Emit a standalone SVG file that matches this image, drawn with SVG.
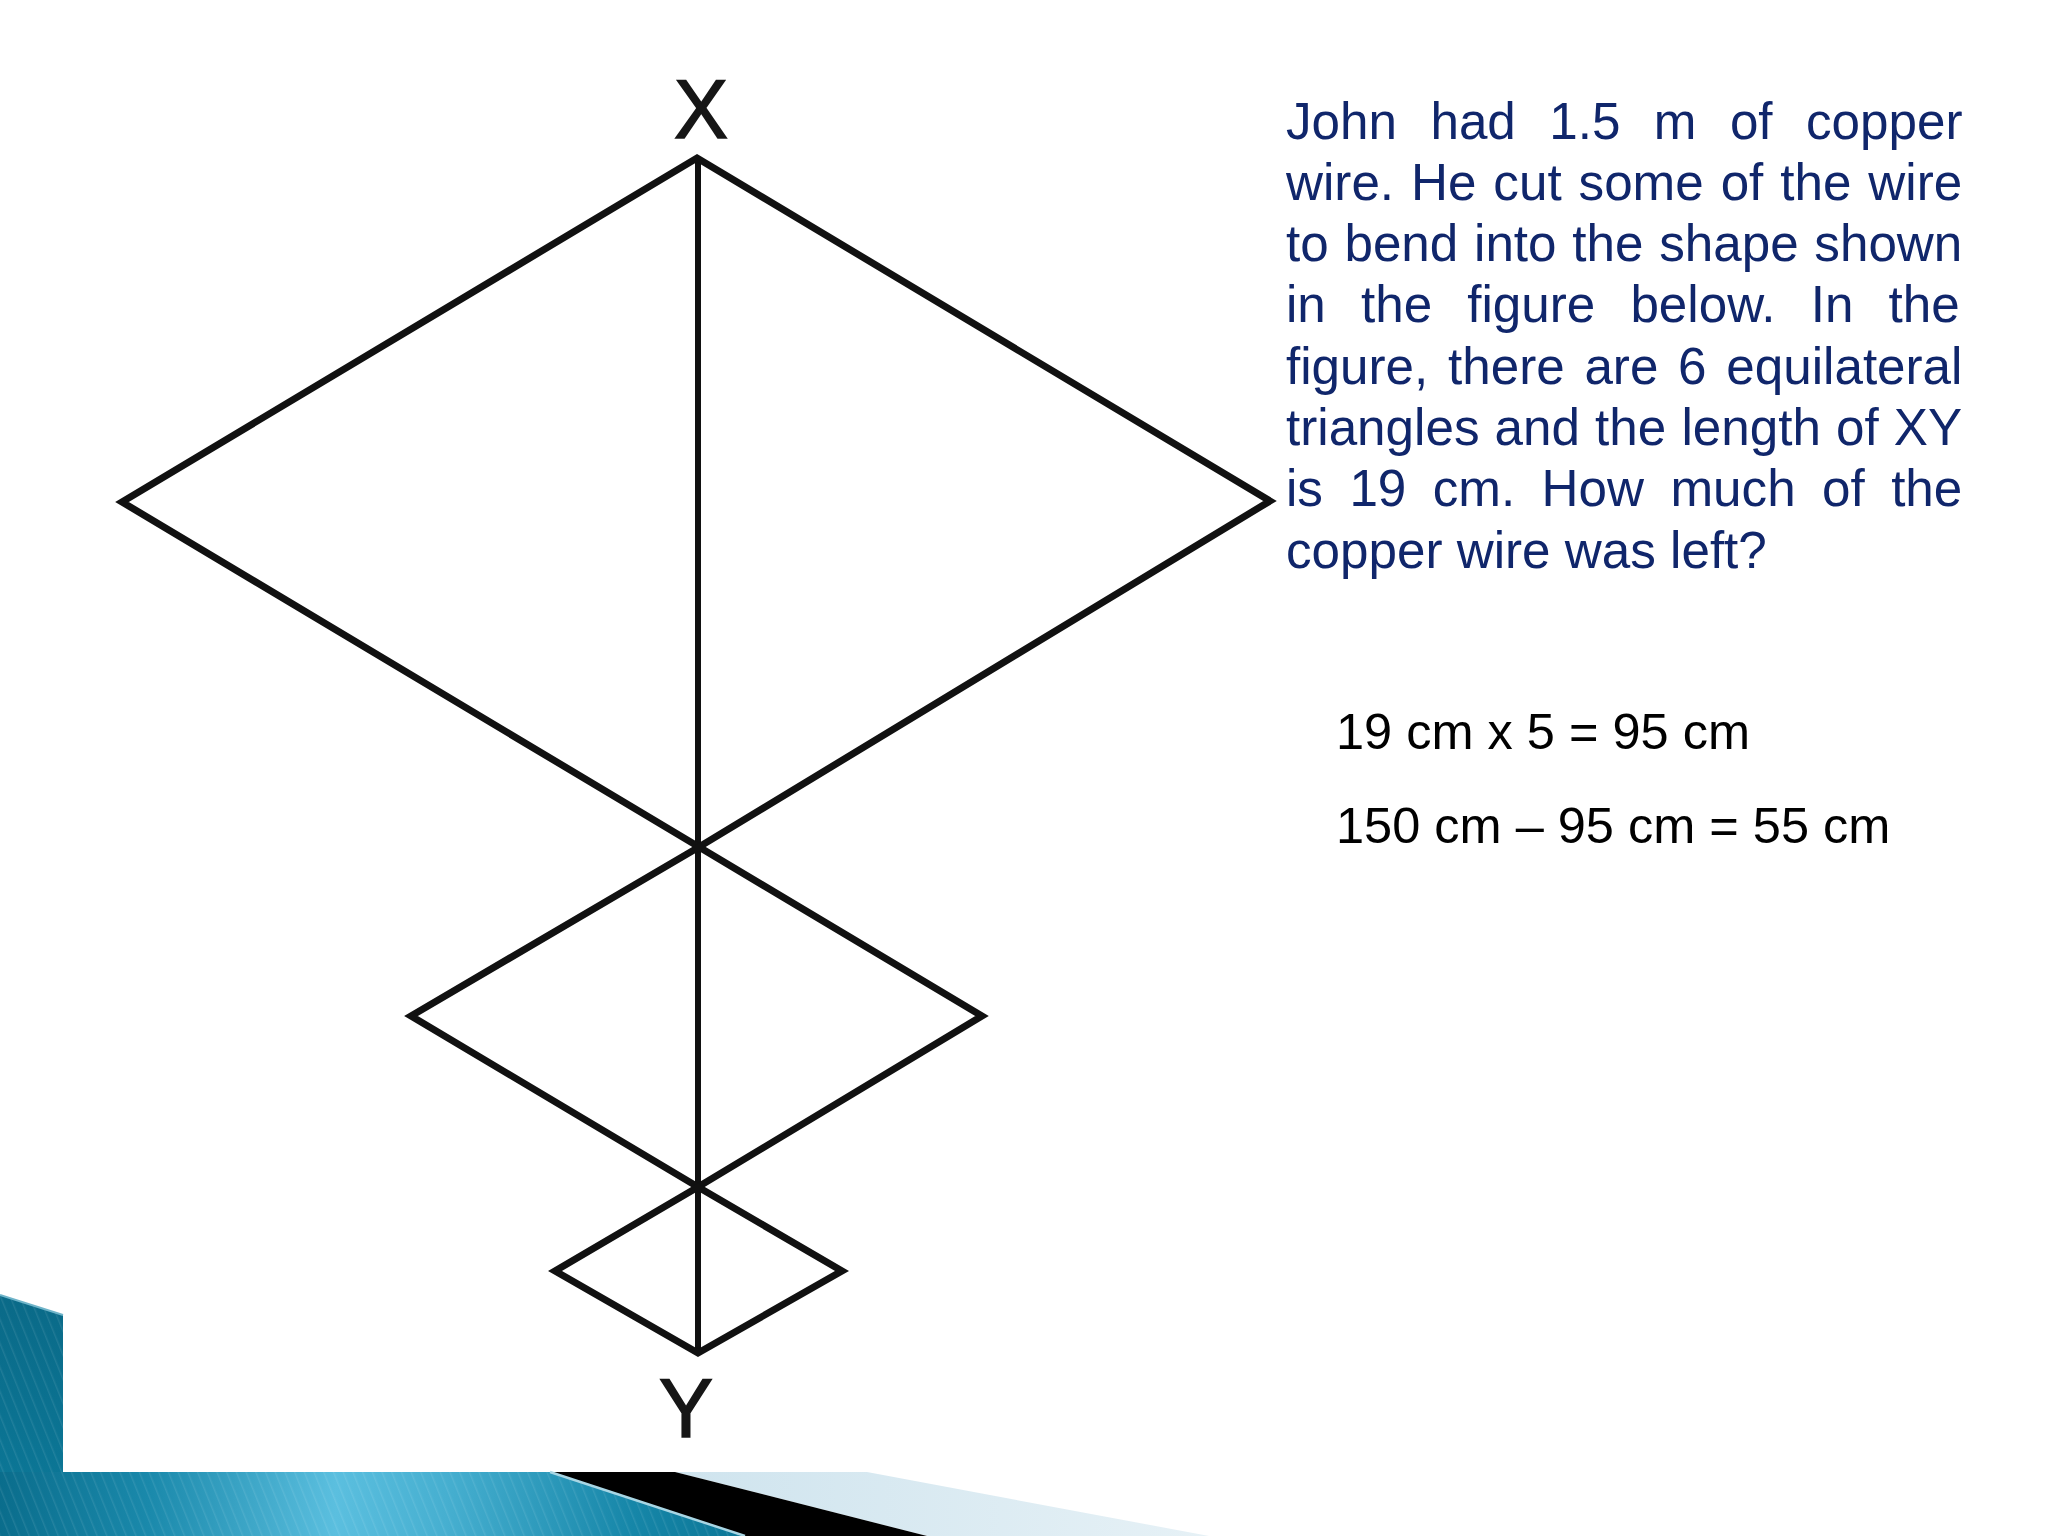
<svg xmlns="http://www.w3.org/2000/svg" width="2048" height="1536" viewBox="0 0 2048 1536">
  <defs>
    <linearGradient id="stripGrad" gradientUnits="userSpaceOnUse" x1="0" y1="0" x2="745" y2="0">
      <stop offset="0" stop-color="#0a6d8c"/>
      <stop offset="0.2" stop-color="#1a89ab"/>
      <stop offset="0.45" stop-color="#5bbfdf"/>
      <stop offset="0.6" stop-color="#46afd0"/>
      <stop offset="0.85" stop-color="#1686a8"/>
      <stop offset="1" stop-color="#0b7696"/>
    </linearGradient>
    <linearGradient id="barGrad" gradientUnits="userSpaceOnUse" x1="0" y1="1295" x2="0" y2="1536">
      <stop offset="0" stop-color="#0a6a88"/>
      <stop offset="1" stop-color="#0c7a9a"/>
    </linearGradient>
    <linearGradient id="paleGrad" gradientUnits="userSpaceOnUse" x1="675" y1="0" x2="1209" y2="0">
      <stop offset="0" stop-color="#cfe4ee"/>
      <stop offset="1" stop-color="#e6f1f6"/>
    </linearGradient>
    <pattern id="stripes" patternUnits="userSpaceOnUse" width="9" height="9" patternTransform="rotate(-22)">
      <rect x="0" y="0" width="1.4" height="9" fill="#ffffff" fill-opacity="0.09"/>
    </pattern>
  </defs>
  <style>
    .wire { fill: none; stroke: #111111; stroke-width: 7; stroke-linejoin: miter; }
    .axis { fill: none; stroke: #111111; stroke-width: 6; }
    .lbl { font-family: "Liberation Sans", Arial, sans-serif; font-size: 84px; fill: #161616; stroke: #161616; stroke-width: 1.6; text-anchor: middle; }
    .q { font-family: "Liberation Sans", Arial, sans-serif; font-size: 51.2px; fill: #10266b; }
    .a { font-family: "Liberation Sans", Arial, sans-serif; font-size: 50.5px; fill: #000000; }
  </style>

  <rect x="0" y="0" width="2048" height="1536" fill="#ffffff"/>

  <!-- slide decoration -->
  <g id="decoration">
    <polygon points="0,1295 63,1315 63,1536 0,1536" fill="url(#barGrad)"/>
    <polygon points="0,1295 63,1315 63,1536 0,1536" fill="url(#stripes)"/>
    <line x1="0" y1="1295" x2="63" y2="1315" stroke="#6fb4c9" stroke-width="2"/>
    <polygon points="0,1472 550,1472 745,1536 0,1536" fill="url(#stripGrad)"/>
    <polygon points="0,1472 550,1472 745,1536 0,1536" fill="url(#stripes)"/>
    <polygon points="675,1472 867,1472 1209,1536 927,1536" fill="url(#paleGrad)"/>
    <polygon points="550,1472 675,1472 927,1536 745,1536" fill="#000000"/>
    <line x1="550" y1="1472" x2="745" y2="1536" stroke="#a8d6e4" stroke-width="2.5"/>
  </g>

  <!-- figure -->
  <g id="connectors">
    <line id="xy-axis" class="axis" x1="698" y1="158" x2="698" y2="1353"/>
  </g>
  <g id="diamond-large">
    <polygon class="wire" points="697,158 1270,501 699,847 122,502"/>
  </g>
  <g id="diamond-medium">
    <polygon class="wire" points="699,847 982,1016 698,1187 411,1016"/>
  </g>
  <g id="diamond-small">
    <polygon class="wire" points="698,1187 842,1271 698,1353 555,1271"/>
  </g>
  <g id="label-x">
    <text class="lbl" x="701" y="138" textLength="54" lengthAdjust="spacingAndGlyphs">X</text>
  </g>
  <g id="label-y">
    <text class="lbl" x="686" y="1437" textLength="54" lengthAdjust="spacingAndGlyphs">Y</text>
  </g>

  <!-- question text (justified) -->
  <g id="question">
    <text class="q" x="1286" y="138.5" style="word-spacing:19.2px">John had 1.5 m of copper</text>
    <text class="q" x="1286" y="199.8" style="word-spacing:2.7px">wire. He cut some of the wire</text>
    <text class="q" x="1286" y="261.1" style="word-spacing:1.5px">to bend into the shape shown</text>
    <text class="q" x="1286" y="322.4" style="word-spacing:20.9px">in the figure below. In the</text>
    <text class="q" x="1286" y="383.7" style="word-spacing:5.5px">figure, there are 6 equilateral</text>
    <text class="q" x="1286" y="445" style="word-spacing:0.9px">triangles and the length of XY</text>
    <text class="q" x="1286" y="506.3" style="word-spacing:12.2px">is 19 cm. How much of the</text>
    <text class="q" x="1286" y="567.6">copper wire was left?</text>
  </g>

  <!-- answer -->
  <g id="answer">
    <text class="a" x="1336" y="749">19 cm x 5 = 95 cm</text>
    <text class="a" x="1336" y="843">150 cm – 95 cm = 55 cm</text>
  </g>
</svg>
